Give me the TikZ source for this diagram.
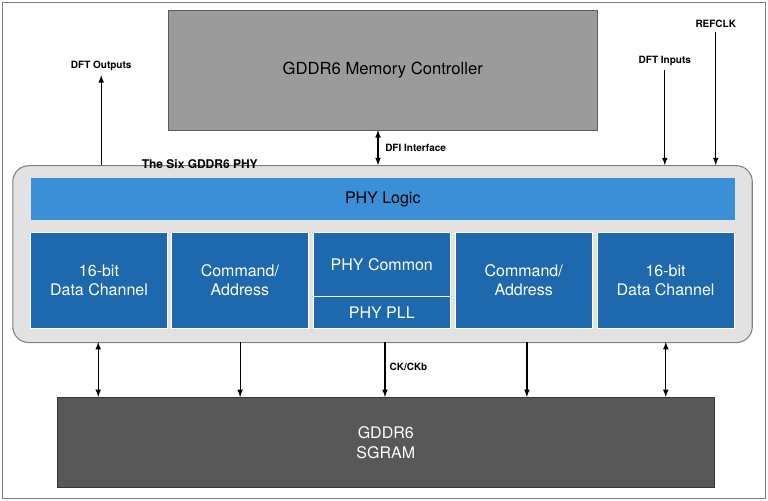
\documentclass[tikz,border=0pt]{standalone}
\usepackage{fontspec}
\setmainfont{TeX Gyre Heros}
\usetikzlibrary{positioning}
\definecolor{ctrlgray}{HTML}{9B9B9B}
\definecolor{sramgray}{HTML}{585858}
\definecolor{phybg}{HTML}{E2E2E2}
\definecolor{logicblue}{HTML}{3A8FD6}
\definecolor{blockblue}{HTML}{1E69AE}
\tikzset{
  box/.style={draw=#1!60!black,fill=#1,inner sep=0pt,align=center,anchor=north west},
  blk/.style={fill=blockblue,draw=white,line width=0.4pt,inner sep=0pt,align=center,anchor=north west,
    minimum width=102.75pt,minimum height=72pt,text=white,font=\fontsize{12}{14}\selectfont},
  lbl/.style={font=\fontsize{7.5}{9}\selectfont\bfseries,inner sep=1pt},
  sig/.style={-latex,line width=0.9pt},
  bsig/.style={latex-latex,line width=0.9pt}
}
\begin{document}
\begin{tikzpicture}[x=0.75pt,y=-0.75pt]
  \draw[white] (0,0) rectangle (768,500);
  \draw[gray,line width=0.6pt] (2,2) rectangle (766,498);
  % controller and sram
  \node[box=ctrlgray,minimum width=321.75pt,minimum height=90pt,font=\fontsize{12.5}{15}\selectfont] (mc) at (168,10) {GDDR6 Memory Controller};
  \node[box=sramgray,minimum width=492.75pt,minimum height=67.5pt,text=white,font=\fontsize{12}{15}\selectfont] (sram) at (57,397) {GDDR6\\SGRAM};
  % phy
  \node[draw=gray,fill=phybg,rounded corners=12pt,line width=0.8pt,minimum width=555pt,minimum height=132.75pt,anchor=north west] (phy) at (12,165) {};
  \node[lbl,anchor=south west,font=\fontsize{9}{11}\selectfont\bfseries] (title) at (140,170) {The Six GDDR6 PHY};
  \node[fill=logicblue,anchor=north west,minimum width=528.75pt,minimum height=31.5pt,inner sep=0pt,font=\fontsize{12}{14}\selectfont] (logic) at (30,178) {PHY Logic};
  \node[blk] (dc1) at (30,232) {16-bit\\Data Channel};
  \node[blk] (ca1) at (171,232) {Command/\\Address};
  \node[blk,minimum height=48pt,text depth=0pt] (com) at (313,232) {PHY Common};
  \node[blk,minimum height=24pt] (pll) at (313,296) {PHY PLL};
  \node[blk] (ca2) at (455,232) {Command/\\Address};
  \node[blk] (dc2) at (597,232) {16-bit\\Data Channel};
  % top signals
  \coordinate (dfto) at (101,75);
  \coordinate (dfti) at (665,70);
  \coordinate (ref) at (716,32);
  \node[lbl,above=2pt of dfto] {DFT Outputs};
  \node[lbl,above=2pt of dfti] {DFT Inputs};
  \node[lbl,above=2pt of ref] {REFCLK};
  \draw[sig] (dfto |- phy.north) -- (dfto);
  \draw[sig] (dfti) -- (dfti |- phy.north);
  \draw[sig] (ref) -- (ref |- phy.north);
  \draw[bsig] (378,130) coordinate (dfi) -- (dfi |- phy.north) node[lbl,midway,right=4pt] {DFI Interface};
  % bottom signals
  \draw[bsig] (98,342) coordinate (b1) -- (b1 |- sram.north);
  \draw[sig] (240,342) coordinate (b2) -- (b2 |- sram.north);
  \draw[sig] (385,342) coordinate (b3) -- (b3 |- sram.north) node[lbl,pos=0.45,right=2pt] {CK/CKb};
  \draw[sig] (527,342) coordinate (b4) -- (b4 |- sram.north);
  \draw[bsig] (666,342) coordinate (b5) -- (b5 |- sram.north);
\end{tikzpicture}
\end{document}
